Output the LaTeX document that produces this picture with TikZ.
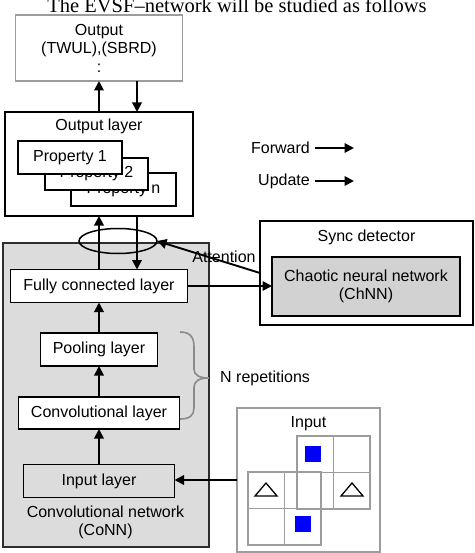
\documentclass[tikz,border=0pt]{standalone}
\usepackage{fontspec}
\setmainfont{Liberation Sans}
\newfontfamily\titlefont{Liberation Serif}
\usetikzlibrary{arrows.meta,shapes.geometric}
\definecolor{bggray}{HTML}{DCDCDC}
\definecolor{chgray}{HTML}{D2D2D2}
\definecolor{lgray}{HTML}{9C9C9C}
\definecolor{brgray}{HTML}{8A8A8A}
\definecolor{dkgray}{HTML}{2E2E2E}
\begin{document}
\begin{tikzpicture}[x=1pt,y=-1pt,
  font=\fontsize{16}{18}\selectfont,
  blk/.style={draw=black, line width=1.8pt, fill=white, inner sep=0pt, outer sep=0pt, align=center},
  gblk/.style={blk, draw=lgray},
  arr/.style={line width=1.9pt, -{Triangle[length=9.5pt,width=9.5pt]}},
  cell/.style={draw=lgray, line width=1.2pt},
  lbl/.style={inner sep=0pt, align=center}]
\useasboundingbox (0,0) rectangle (474,553);

% title (clipped at the top)
\node[lbl, anchor=base, font=\titlefont\fontsize{20.5}{22}\selectfont] (title) at (237,13) {The EVSF–network will be studied as follows};

% output box
\node[gblk, minimum width=167, minimum height=66] (out) at (99,48) {Output\\(TWUL),(SBRD)\\[1pt]:};

% output layer
\node[blk, minimum width=188, minimum height=104] (ol) at (99,164) {};
\node[lbl] (oltxt) at (99,126) {Output layer};
\node[blk, minimum width=105, minimum height=33] (pn) at (123.5,189.5) {Property n};
\node[blk, minimum width=103, minimum height=32] (p2) at (96.5,174) {Property 2};
\node[blk, minimum width=104, minimum height=33] (p1) at (70,157.5) {Property 1};

% convolutional network
\node[draw=dkgray, line width=2.2pt, fill=bggray, minimum width=206, minimum height=304, inner sep=0pt, outer sep=0pt] (conn) at (106,395) {};
\node[lbl] (conntxt) at (105.5,522.5) {Convolutional network\\(CoNN)};
\node[blk, minimum width=177, minimum height=33] (fc) at (99,286) {Fully connected layer};
\node[blk, minimum width=117, minimum height=33] (pool) at (99,349.5) {Pooling layer};
\node[blk, minimum width=161, minimum height=32] (conv) at (99,413) {Convolutional layer};
\node[blk, fill=bggray, minimum width=151, minimum height=33] (inl) at (99,481) {Input layer};

% attention ellipse
\node[draw=black, line width=1.5pt, ellipse, minimum width=78, minimum height=25, inner sep=0pt, outer sep=0pt] (ell) at (118,241) {};

% arrows output <-> output layer
\draw[arr] (ol.north) -- (ol.north |- out.south);
\coordinate (dn1) at ([xshift=38pt]out.south);
\draw[arr] (dn1) -- (dn1 |- ol.north);

% arrows fc <-> output layer
\draw[arr] (fc.north) -- (fc.north |- ol.south);
\coordinate (dn2) at ([xshift=38pt]ol.south);
\draw[arr] (dn2) -- (dn2 |- fc.north);

% CoNN internal arrows
\draw[arr] (pool.north) -- (fc.south);
\draw[arr] (conv.north) -- (pool.south);
\draw[arr] (inl.north) -- (conv.south);

% brace
\draw[brgray, line width=1.6pt] (180,332) .. controls (190,332) and (194,337) .. (194,347)
  -- (194,369) .. controls (194,375) and (199,378) .. (209,378)
  .. controls (199,378) and (194,381) .. (194,388)
  -- (194,408) .. controls (194,415) and (190,419) .. (180,419);
\node[lbl, anchor=west] (nrep) at (220,378) {N repetitions};

% legend
\node[lbl, anchor=east] (fwd) at (310,148) {Forward};
\coordinate (fwdA) at (315,148);
\coordinate (fwdB) at (354,148);
\draw[arr] (fwdA) -- (fwdB);
\node[lbl, anchor=east] (upd) at (310,181) {Update};
\coordinate (updA) at (315,181);
\coordinate (updB) at (354,181);
\draw[arr] (updA) -- (updB);

% sync detector
\node[blk, minimum width=213, minimum height=104] (sync) at (366.5,273) {};
\node[lbl] (synctxt) at (366.5,237) {Sync detector};
\node[blk, fill=chgray, minimum width=188, minimum height=59] (chnn) at (366,286.5) {Chaotic neural network\\(ChNN)};

\draw[arr] (fc.east) -- (fc.east -| chnn.west);
\draw[arr] (sync.west) -- (ell.east);
\node[lbl] (att) at (224,257) {Attention};

% input box
\node[gblk, minimum width=143, minimum height=144] (inp) at (308.5,480) {};
\node[lbl] (inptxt) at (308.5,424) {Input};
\draw[arr] (inp.west) -- (inp.west -| inl.east);

% grids
\draw[cell] (297,436) rectangle (370,509);
\draw[cell] (333.5,436) -- (333.5,509);
\draw[cell] (297,472.5) -- (370,472.5);
\draw[cell] (248,472) rectangle (321,545);
\draw[cell] (284.5,472) -- (284.5,545);
\draw[cell] (248,508.5) -- (321,508.5);
\fill[blue] (305,446) rectangle (321,462);
\fill[blue] (295,516) rectangle (311,532);
\draw[black, line width=1.3pt, line join=miter] (255,496) -- (277,496) -- (266,483) -- cycle;
\draw[black, line width=1.3pt, line join=miter] (341,496) -- (363,496) -- (352,483) -- cycle;
\end{tikzpicture}
\end{document}
